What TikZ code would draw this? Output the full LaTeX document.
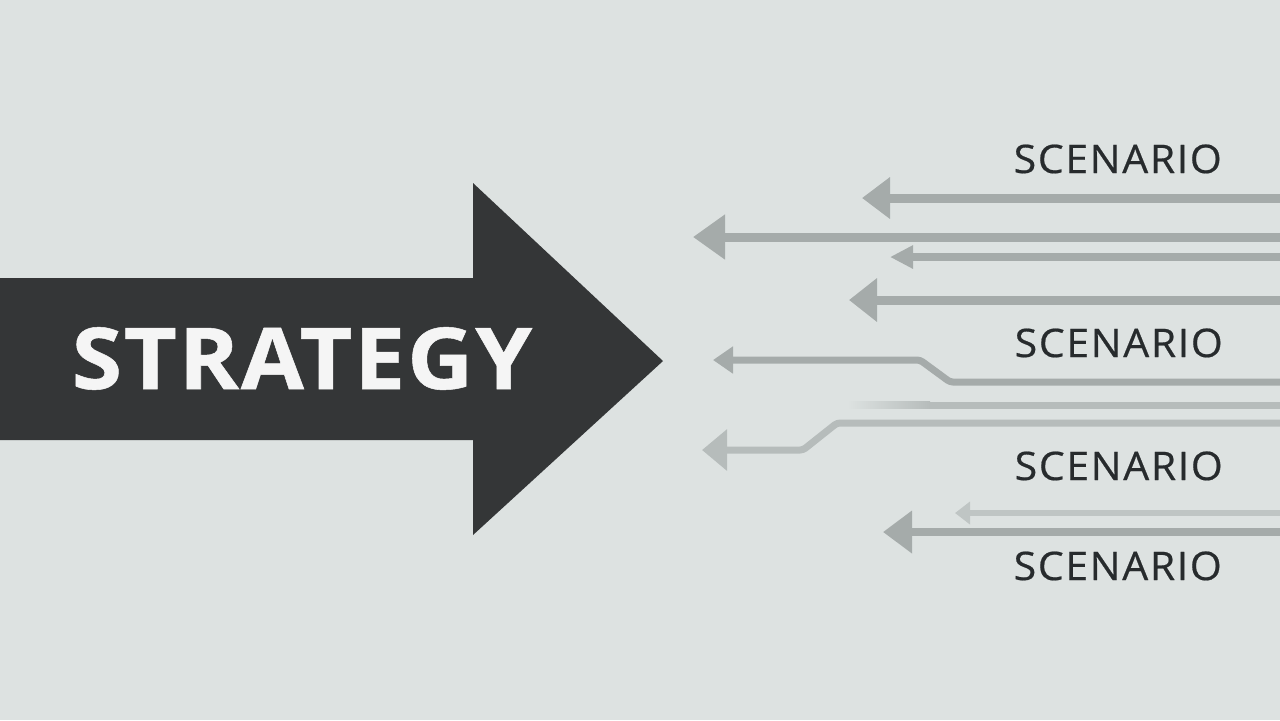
\documentclass[tikz,border=0pt]{standalone}
\usepackage{fontspec}
\setmainfont{Open Sans}
\newfontfamily\titlefont[LetterSpace=2, FakeBold=0.6]{Open Sans}
\newfontfamily\labelfont[LetterSpace=4, FakeBold=0.5]{Open Sans}
\usetikzlibrary{arrows.meta}
\definecolor{bg}{HTML}{DDE2E1}
\definecolor{dark}{HTML}{343637}
\definecolor{ar}{HTML}{A5ABAA}
\definecolor{arlight}{HTML}{B6BCBB}
\definecolor{arfaint}{HTML}{BFC5C4}
\definecolor{txt}{HTML}{272B2D}
\tikzset{
  scen/.style={anchor=base west, inner sep=0pt, text=txt, font=\labelfont\fontsize{11.2pt}{13pt}\selectfont},
  garrow/.style={draw=ar, line width=#1*0.01cm, rounded corners=0.03cm},
  ghead/.style n args={2}{-{Triangle[length=#1*0.01cm, width=#2*0.01cm]}},
}
\begin{document}
\begin{tikzpicture}[x=0.01cm, y=-0.01cm]
\useasboundingbox (0,0) rectangle (1280,720);
\fill[bg] (0,0) rectangle (1280,720);
% big arrow
\fill[dark] (0,278) -- (473,278) -- (473,183) -- (663,361) -- (473,535) -- (473,440) -- (0,440) -- cycle;
\node[anchor=base west, inner sep=0pt, text=white!96!black, font=\titlefont\bfseries\fontsize{24.3pt}{28pt}\selectfont] (strategy) at (71,389) {\scalebox{1.07}[1]{STRATEGY}};
% labels
\node[scen] (s1) at (1013,173) {\scalebox{1.04}[1]{SCENARIO}};
\node[scen] (s2) at (1014,357) {\scalebox{1.04}[1]{SCENARIO}};
\node[scen] (s3) at (1014,480) {\scalebox{1.04}[1]{SCENARIO}};
\node[scen] (s4) at (1013,580) {\scalebox{1.04}[1]{SCENARIO}};
% coordinates
\coordinate (a1s) at (1280,198); \coordinate (a1t) at (862,198);
\coordinate (a2s) at (1280,237); \coordinate (a2t) at (693,237);
\coordinate (a3s) at (1280,257); \coordinate (a3t) at (890,257);
\coordinate (a4s) at (1280,300); \coordinate (a4t) at (849,300);
\coordinate (a5s) at (1280,382); \coordinate (a5b) at (950,382); \coordinate (a5c) at (920,360); \coordinate (a5t) at (713,360);
\coordinate (l6s) at (1280,405); \coordinate (l6t) at (847,405);
\coordinate (a7s) at (1280,423); \coordinate (a7b) at (837,423); \coordinate (a7c) at (803,450); \coordinate (a7t) at (702,450);
\coordinate (a8s) at (1280,513); \coordinate (a8t) at (955,513);
\coordinate (a9s) at (1280,532); \coordinate (a9t) at (883,532);
% scenario arrows
\draw[garrow=9, ghead={28}{40}] (a1s) -- (a1t);
\draw[garrow=9, ghead={32}{43}] (a2s) -- (a2t);
\draw[garrow=8, ghead={23}{22}] (a3s) -- (a3t);
\draw[garrow=9, ghead={28}{42}] (a4s) -- (a4t);
\draw[garrow=7, ghead={20}{26}] (a5s) -- (a5b) -- (a5c) -- (a5t);
\shade[left color=bg, right color=arlight] (847,401.5) rectangle (930,408.5);
\fill[arlight] (930,401.5) rectangle (1280,408.5);
\draw[garrow=7, draw=arlight, ghead={25}{40}] (a7s) -- (a7b) -- (a7c) -- (a7t);
\draw[garrow=6, draw=arfaint, ghead={15}{22}] (a8s) -- (a8t);
\draw[garrow=8, ghead={29}{41}] (a9s) -- (a9t);
\end{tikzpicture}
\end{document}
